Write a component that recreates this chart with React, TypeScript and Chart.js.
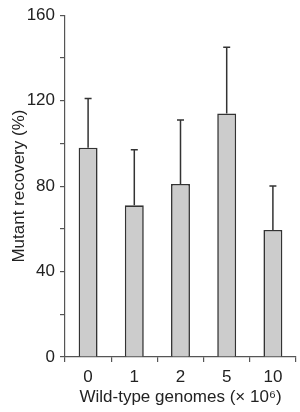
import React, { useEffect, useRef } from "react";
import { Chart, registerables } from "chart.js";

Chart.register(...registerables);

const categories = ["0", "1", "2", "5", "10"];
const recovery = [98, 71, 81, 114, 59.5];
const errorUpper = [121, 97, 111, 145, 80];
const yMin = 0;
const yMax = 160;
const yStep = 20;
const yLabelEvery = 40;

const FONT = "'Liberation Sans', Arial, Helvetica, sans-serif";
const INK = "#222222";
const AXIS = "#555555";

const errorBarPlugin = {
  id: "errorBars",
  afterDatasetsDraw(chart: any) {
    const meta = chart.getDatasetMeta(0);
    const yScale = chart.scales.y;
    const ctx = chart.ctx;
    ctx.save();
    ctx.strokeStyle = "#333333";
    ctx.lineWidth = 1.5;
    meta.data.forEach((bar: any, i: number) => {
      const x = bar.x;
      const yTop = yScale.getPixelForValue(recovery[i]);
      const yErr = yScale.getPixelForValue(errorUpper[i]);
      ctx.beginPath();
      ctx.moveTo(x, yTop);
      ctx.lineTo(x, yErr);
      ctx.moveTo(x - 3.5, yErr);
      ctx.lineTo(x + 3.5, yErr);
      ctx.stroke();
    });
    ctx.restore();
  },
};

export default function App() {
  const ref = useRef<HTMLCanvasElement>(null);
  useEffect(() => {
    if (!ref.current) return;
    const chart = new Chart(ref.current, {
      type: "bar",
      data: {
        labels: categories,
        datasets: [
          {
            data: recovery,
            backgroundColor: "#cccccc",
            borderColor: "#333333",
            borderWidth: 1.6,
            barPercentage: 0.41,
            categoryPercentage: 1,
          },
        ],
      },
      plugins: [errorBarPlugin],
      options: {
        responsive: false,
        animation: false,
        layout: { padding: { left: 0, top: 15, right: 4, bottom: 0 } },
        plugins: { legend: { display: false }, tooltip: { enabled: false } },
        scales: {
          x: {
            afterFit: (s: any) => {
              s.height = 55;
            },
            grid: {
              offset: true,
              drawOnChartArea: false,
              drawTicks: true,
              tickLength: 5,
              color: AXIS,
              lineWidth: 1.2,
            },
            border: { display: true, color: AXIS, width: 1.2 },
            ticks: {
              color: INK,
              font: { family: FONT, size: 17 },
              padding: 5,
            },
            title: {
              display: true,
              text: "Wild-type genomes (× 10⁶)",
              color: INK,
              font: { family: FONT, size: 17 },
              padding: { top: 4, bottom: 4 },
            },
          },
          y: {
            min: yMin,
            max: yMax,
            afterFit: (s: any) => {
              s.width = 65;
            },
            grid: {
              drawOnChartArea: false,
              drawTicks: true,
              tickLength: 5,
              color: AXIS,
              lineWidth: 1.2,
            },
            border: { display: true, color: AXIS, width: 1.2 },
            ticks: {
              stepSize: yStep,
              autoSkip: false,
              color: INK,
              font: { family: FONT, size: 17 },
              padding: 5,
              callback: (v: any) => (Number(v) % yLabelEvery === 0 ? String(v) : ""),
            },
            title: {
              display: true,
              text: "Mutant recovery (%)",
              color: INK,
              font: { family: FONT, size: 17 },
              padding: { top: 9, bottom: 4 },
            },
          },
        },
      },
    });
    return () => chart.destroy();
  }, []);
  return (
    <div style={{ position: "fixed", left: 0, top: 0, width: 300, height: 412, background: "#fff" }}>
      <canvas ref={ref} width={300} height={412} style={{ display: "block" }} />
    </div>
  );
}
